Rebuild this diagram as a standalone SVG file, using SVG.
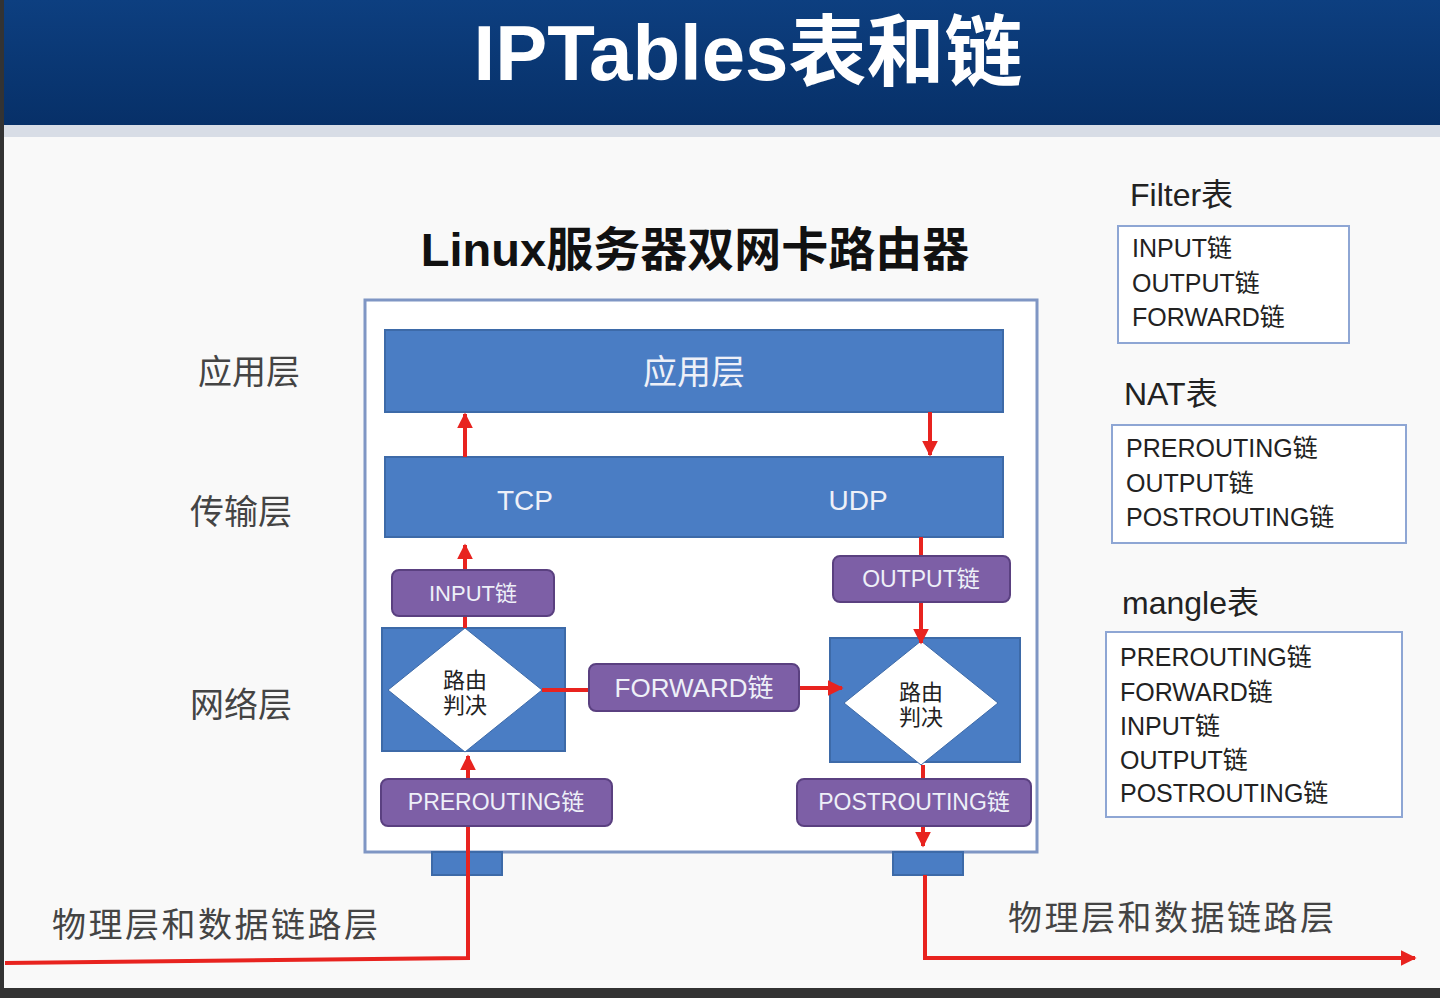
<svg xmlns="http://www.w3.org/2000/svg" width="1440" height="998" viewBox="0 0 1440 998">
<defs>
<linearGradient id="hd" x1="0" y1="0" x2="0" y2="1"><stop offset="0" stop-color="#0d3f80"/><stop offset="1" stop-color="#073068"/></linearGradient>
<marker id="ar" viewBox="0 0 10 10" refX="9" refY="5" markerWidth="4" markerHeight="4" orient="auto"><path d="M0,0L10,5L0,10z" fill="#e8231f"/></marker>
<style>
.cn{font-family:"Liberation Sans","Noto Sans CJK SC",sans-serif}
.blue{fill:#4a7dc4;stroke:#3d6aa8;stroke-width:2}
.pur{fill:#7d5fa6;stroke:#5a4080;stroke-width:2}
.wt{fill:#eef0f8;text-anchor:middle}
.lbl{fill:#444;font-size:34px}
.tb{fill:#222;font-size:25px}
.tbox{fill:#fff;stroke:#8ea6d4;stroke-width:2}
.rl{stroke:#e8231f;stroke-width:4;fill:none}
</style>
</defs>
<rect width="1440" height="998" fill="#f9f9f9"/>
<rect width="1440" height="125" fill="url(#hd)"/>
<rect y="125" width="1440" height="12" fill="#d8dde6"/>
<rect x="0" y="0" width="4" height="998" fill="#333"/>
<rect x="0" y="988" width="1440" height="10" fill="#333"/>
<text class="cn" x="748" y="80" font-size="78" font-weight="bold" fill="#fff" text-anchor="middle">IPTables表和链</text>
<text class="cn" x="695" y="266" font-size="47" font-weight="bold" fill="#111" text-anchor="middle">Linux服务器双网卡路由器</text>
<g id="labels">
<text class="cn lbl" x="198" y="384">应用层</text>
<text class="cn lbl" x="190" y="524">传输层</text>
<text class="cn lbl" x="190" y="717">网络层</text>
<text class="cn lbl" x="52" y="937" textLength="326">物理层和数据链路层</text>
<text class="cn lbl" x="1008" y="930" textLength="326">物理层和数据链路层</text>
</g>
<g id="server"><rect x="365" y="300" width="672" height="552" fill="#fff" stroke="#7f96c4" stroke-width="3"/>
<rect class="blue" x="432" y="852" width="70" height="23"/><rect class="blue" x="893" y="852" width="70" height="23"/></g>
<g id="app"><rect class="blue" x="385" y="330" width="618" height="82"/><text class="cn wt" x="694" y="384" style="font-size:34px">应用层</text></g>
<g id="transport"><rect class="blue" x="385" y="457" width="618" height="80"/><text class="cn wt" x="525" y="510" style="font-size:28px">TCP</text><text class="cn wt" x="858" y="510" style="font-size:28px">UDP</text></g>
<g id="route-l"><rect class="blue" x="382" y="628" width="183" height="123"/><path d="M465,628L542,690L465,752L388,690z" fill="#fff" stroke="#3d6aa8"/><text class="cn" x="465" y="688" font-size="22" text-anchor="middle" fill="#222">路由</text><text class="cn" x="465" y="713" font-size="22" text-anchor="middle" fill="#222">判决</text></g>
<g id="route-r"><rect class="blue" x="830" y="638" width="190" height="124"/><path d="M921,641L998,703L921,765L844,703z" fill="#fff" stroke="#3d6aa8"/><text class="cn" x="921" y="700" font-size="22" text-anchor="middle" fill="#222">路由</text><text class="cn" x="921" y="725" font-size="22" text-anchor="middle" fill="#222">判决</text></g>
<g id="connectors">
<path class="rl" d="M5,963L468,958L468,756" marker-end="url(#ar)"/>
<path class="rl" d="M465,628L465,545" marker-end="url(#ar)"/>
<path class="rl" d="M465,457L465,414" marker-end="url(#ar)"/>
<path class="rl" d="M930,412L930,455" marker-end="url(#ar)"/>
<path class="rl" d="M921,537L921,643" marker-end="url(#ar)"/>
<path class="rl" d="M542,690L589,690"/>
<path class="rl" d="M799,688L842,688" marker-end="url(#ar)"/>
<path class="rl" d="M923,765L923,846" marker-end="url(#ar)"/>
<path class="rl" d="M925,875L925,958L1415,958" marker-end="url(#ar)"/>
</g>
<g id="input"><rect class="pur" x="392" y="570" width="162" height="46" rx="7"/><text class="cn wt" x="473" y="601" style="font-size:22px">INPUT链</text></g>
<g id="output"><rect class="pur" x="833" y="556" width="177" height="46" rx="7"/><text class="cn wt" x="921" y="587" style="font-size:23px">OUTPUT链</text></g>
<g id="forward"><rect class="pur" x="589" y="664" width="210" height="47" rx="7"/><text class="cn wt" x="694" y="697" style="font-size:26px">FORWARD链</text></g>
<g id="prerouting"><rect class="pur" x="381" y="779" width="231" height="47" rx="7"/><text class="cn wt" x="496" y="810" style="font-size:23px">PREROUTING链</text></g>
<g id="postrouting"><rect class="pur" x="797" y="779" width="234" height="47" rx="7"/><text class="cn wt" x="914" y="810" style="font-size:23px">POSTROUTING链</text></g>
<g id="filter"><text class="cn" x="1130" y="206" font-size="32" fill="#222">Filter表</text><rect class="tbox" x="1118" y="226" width="231" height="117"/>
<text class="cn tb" x="1132" y="257">INPUT链</text><text class="cn tb" x="1132" y="292">OUTPUT链</text><text class="cn tb" x="1132" y="326">FORWARD链</text></g>
<g id="nat"><text class="cn" x="1124" y="405" font-size="32" fill="#222">NAT表</text><rect class="tbox" x="1112" y="425" width="294" height="118"/>
<text class="cn tb" x="1126" y="457">PREROUTING链</text><text class="cn tb" x="1126" y="492">OUTPUT链</text><text class="cn tb" x="1126" y="526">POSTROUTING链</text></g>
<g id="mangle"><text class="cn" x="1122" y="614" font-size="32" fill="#222">mangle表</text><rect class="tbox" x="1106" y="632" width="296" height="185"/>
<text class="cn tb" x="1120" y="666">PREROUTING链</text><text class="cn tb" x="1120" y="701">FORWARD链</text><text class="cn tb" x="1120" y="735">INPUT链</text><text class="cn tb" x="1120" y="769">OUTPUT链</text><text class="cn tb" x="1120" y="802">POSTROUTING链</text></g>
</svg>
